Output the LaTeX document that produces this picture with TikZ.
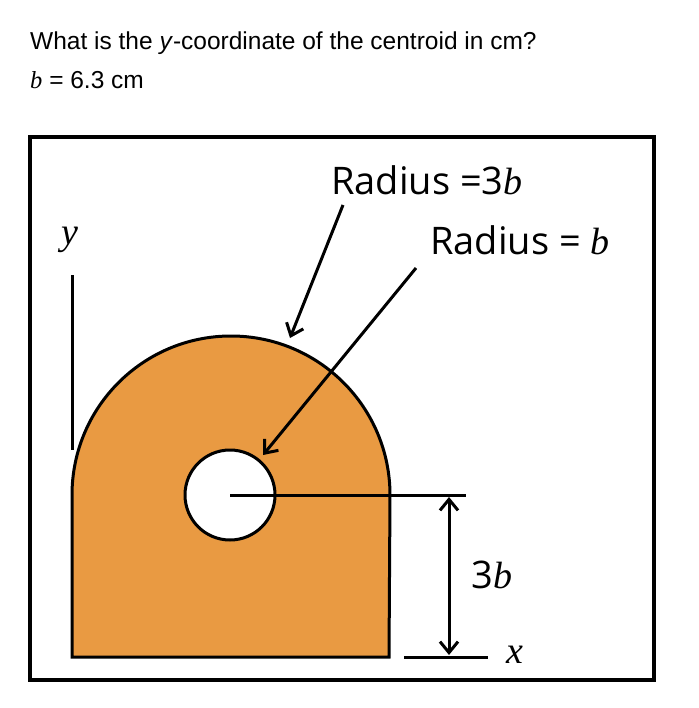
\documentclass[tikz,border=0pt]{standalone}
\usepackage{fontspec}
\setmainfont{Liberation Sans}
\newfontfamily\labfont{Open Sans}
\newfontfamily\mathfont{Liberation Serif}
\newcommand{\mv}[1]{{\mathfont\itshape #1}}
\usetikzlibrary{arrows.meta}
\definecolor{shapeor}{HTML}{E99A42}
\tikzset{lab/.style={font=\labfont\fontsize{38}{40}\selectfont,inner sep=0pt},
ln/.style={line width=3pt},
arr/.style={line width=3pt,-{Straight Barb[length=11pt,width=18pt]}}}
\begin{document}
\begin{tikzpicture}[x=1pt,y=-1pt]
\useasboundingbox (0,0) rectangle (698,708);
\node[anchor=west,inner sep=0pt,font=\fontsize{24.5}{28}\selectfont] (q) at (30,43) {What is the \textit{y}-coordinate of the centroid in cm?};
\node[anchor=west,inner sep=0pt,font=\fontsize{24.5}{28}\selectfont] (bv) at (30,80) {\mv{b} = 6.3 cm};
\draw[line width=3.5pt] (30,137) rectangle (654,680);
\draw[ln,fill=shapeor] (72,657) -- (72,495) arc[start angle=180,end angle=0,x radius=159,y radius=-159] -- (389,657) -- cycle;
\node[circle,draw,line width=3pt,fill=white,minimum size=90pt,inner sep=0pt] (hole) at (230,495) {};
\coordinate (hc) at (230,495);
\coordinate (hr) at (466,495);
\draw[ln] (hc) -- (hr);
\coordinate (br) at (404,657); \coordinate (bre) at (488,657);
\draw[ln] (br) -- (bre);
\coordinate (d1) at (449,497); \coordinate (d2) at (449,655);
\draw[arr,{Straight Barb[length=11pt,width=18pt]}-{Straight Barb[length=11pt,width=18pt]}] (d1) -- (d2);
\node[lab] (tb) at (492,575) {3\mv{b}};
\node[lab] (xl) at (515,655) {\mv{x}};
\coordinate (y1) at (72,275); \coordinate (y2) at (72,450);
\draw[ln] (y1) -- (y2);
\node[lab] (yl) at (70,240) {\mv{y}};
\node[lab] (r1) at (427,180) {Radius =3\mv{b}};
\node[lab] (r2) at (520,240) {Radius = \mv{b}};
\coordinate (a1) at (343,205); \coordinate (a1e) at (290,338);
\draw[arr] (a1) -- (a1e);
\coordinate (a2) at (416,268); \coordinate (a2e) at (263,455);
\draw[arr] (a2) -- (a2e);
\end{tikzpicture}
\end{document}
